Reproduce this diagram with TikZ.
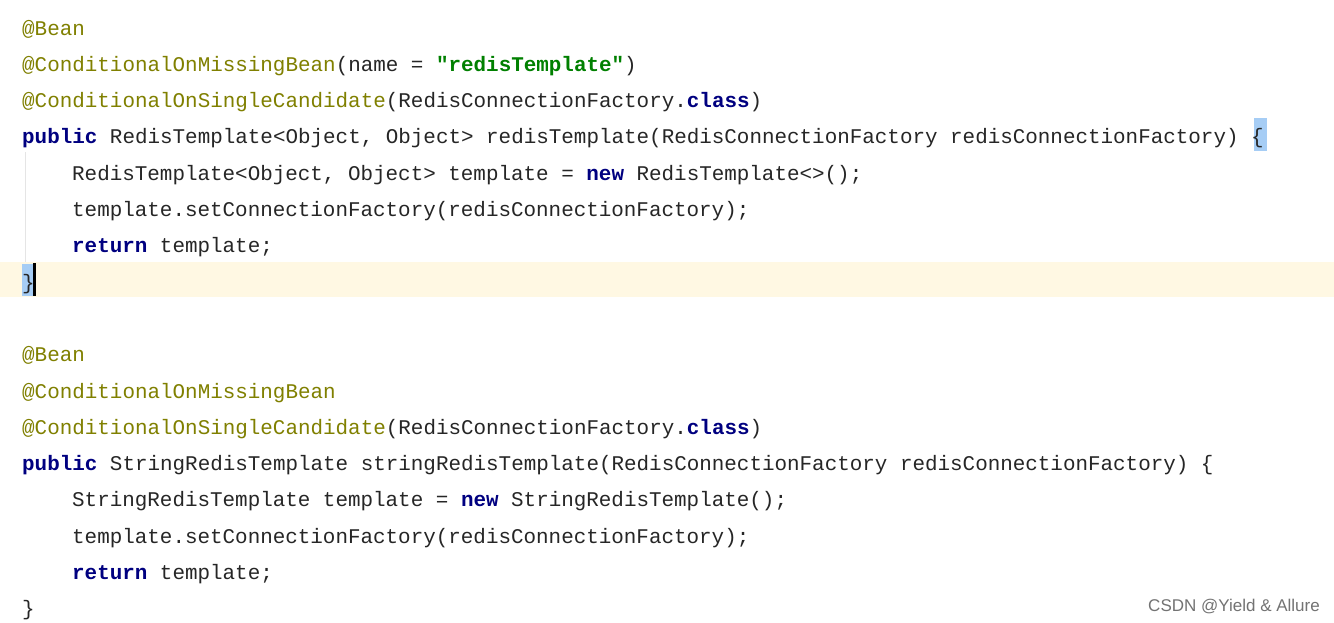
\documentclass[tikz,border=0pt]{standalone}
\usepackage{fontspec}
\setmonofont{Liberation Mono}
\newfontfamily\wmfont{Liberation Sans}
\definecolor{ann}{HTML}{808000}
\definecolor{kw}{HTML}{000080}
\definecolor{str}{HTML}{008000}
\definecolor{curl}{HTML}{FFF8E3}
\definecolor{brh}{HTML}{A6CDF5}
\newcommand{\A}[1]{{\color{ann}#1}}
\newcommand{\K}[1]{{\color{kw}\bfseries #1}}
\newcommand{\Sg}[1]{{\color{str}\bfseries #1}}
\begin{document}
\begin{tikzpicture}[x=1pt,y=-1pt,
  code/.style={anchor=base west,inner sep=0pt,font=\ttfamily\fontsize{20.9}{24}\selectfont,text=black!85}]
\useasboundingbox (0,0) rectangle (1334,622);
\fill[white] (0,0) rectangle (1334,622);
\fill[curl] (0,262) rectangle (1334,297);
\fill[brh] (1254,118) rectangle (1267,151);
\fill[brh] (22,264) rectangle (34,296);
\draw[black!10,line width=1pt] (25,152) -- (25,262);
\def\dy{36.3}
\node[code] (l1) at (22,35) {\A{@Bean}};
\node[code] (l2) at (22,71.3) {\A{@ConditionalOnMissingBean}(name = \Sg{"redisTemplate"})};
\node[code] (l3) at (22,107.6) {\A{@ConditionalOnSingleCandidate}(RedisConnectionFactory.\K{class})};
\node[code] (l4) at (22,143.9) {\K{public} RedisTemplate<Object, Object> redisTemplate(RedisConnectionFactory redisConnectionFactory) \{};
\node[code] (l5) at (72,180.2) {RedisTemplate<Object, Object> template = \K{new} RedisTemplate<>();};
\node[code] (l6) at (72,216.5) {template.setConnectionFactory(redisConnectionFactory);};
\node[code] (l7) at (72,252.8) {\K{return} template;};
\node[code] (l8) at (22,289.1) {\}};
\fill[black] (33,263) rectangle (36,296);
\node[code] (m1) at (22,361.7) {\A{@Bean}};
\node[code] (m2) at (22,398) {\A{@ConditionalOnMissingBean}};
\node[code] (m3) at (22,434.3) {\A{@ConditionalOnSingleCandidate}(RedisConnectionFactory.\K{class})};
\node[code] (m4) at (22,470.6) {\K{public} StringRedisTemplate stringRedisTemplate(RedisConnectionFactory redisConnectionFactory) \{};
\node[code] (m5) at (72,506.9) {StringRedisTemplate template = \K{new} StringRedisTemplate();};
\node[code] (m6) at (72,543.2) {template.setConnectionFactory(redisConnectionFactory);};
\node[code] (m7) at (72,579.5) {\K{return} template;};
\node[code] (m8) at (22,615.8) {\}};
\node[anchor=base east,inner sep=0pt,font=\wmfont\fontsize{17}{20}\selectfont,text=black!55] (wm) at (1320,611) {CSDN @Yield \& Allure};
\end{tikzpicture}
\end{document}
